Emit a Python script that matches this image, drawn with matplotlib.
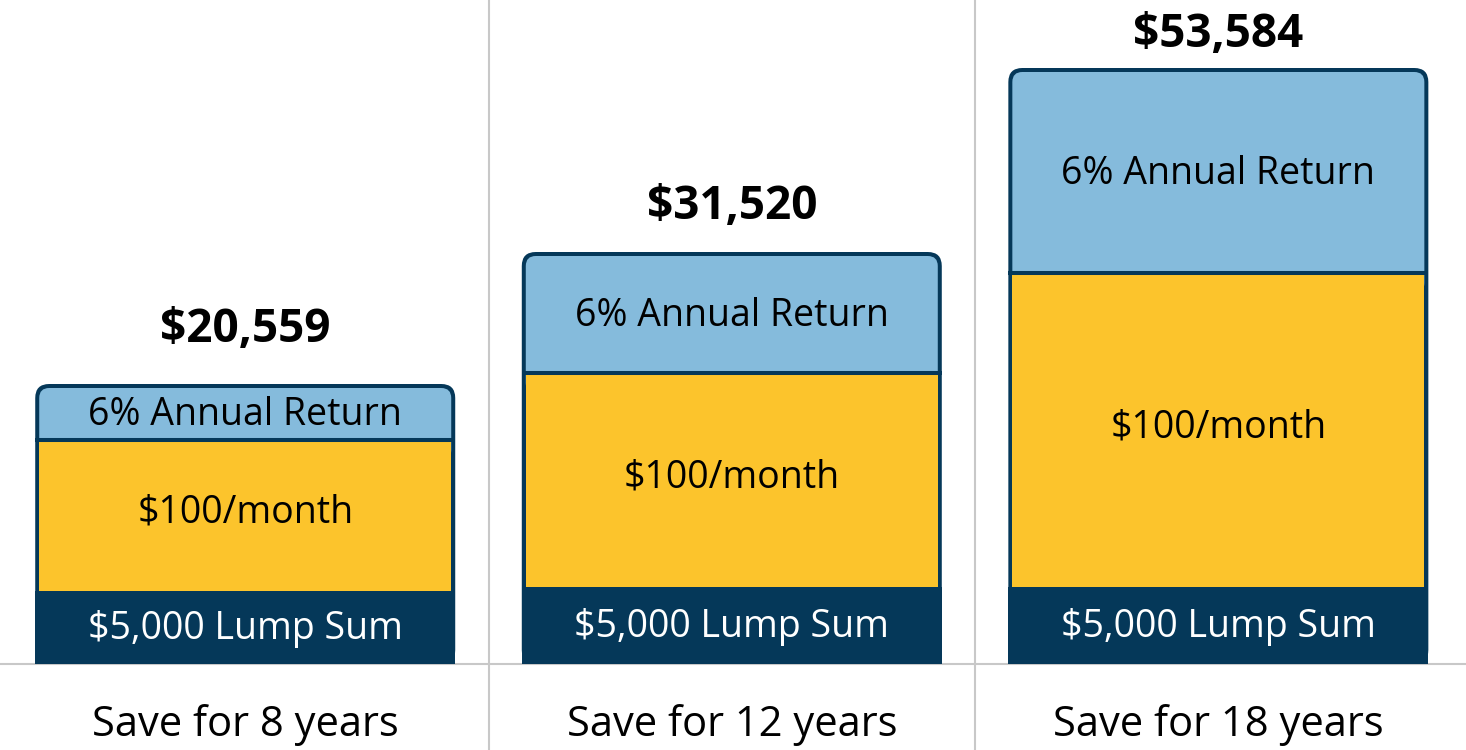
import matplotlib
matplotlib.use("Agg")
import numpy as np
from matplotlib import pyplot as plt
from matplotlib.patches import FancyBboxPatch

plt.rcParams['font.family'] = ['Open Sans', 'DejaVu Sans']

# data (segment heights are the drawn heights)
periods = ["Save for 8 years", "Save for 12 years", "Save for 18 years"]
totals = ["$20,559", "$31,520", "$53,584"]
lump = [73, 77, 77]
monthly = [151, 214, 314]
returns = [56, 121, 205]
lump_label = "$5,000 Lump Sum"
monthly_label = "$100/month"
return_label = "6% Annual Return"

navy = "#053859"
yellow = "#fcc42c"
blue = "#85bbdc"
grey = "#c8c8c8"

W, H = 1466, 750
fig = plt.figure(figsize=(W / 100, H / 100), dpi=100)
ax = fig.add_axes([0, 0, 1, 1])
ax.set_xlim(-0.504, 2.509)
ax.set_ylim(-86, 664)
ax.axis("off")

px = (2.509 + 0.504) / W      # x units per pixel
width = 420 * px
border = 4 * px
aspect = 1 / px               # y units per x unit
x = np.arange(len(periods))

ax.axhline(0, color=grey, lw=1.5, zorder=0)
for s in [0.5, 1.5]:
    ax.axvline(s, color=grey, lw=1.5, zorder=0)

lump = np.array(lump)
monthly = np.array(monthly)
returns = np.array(returns)
tops = lump + monthly + returns
gaps = [42, 33, 21]

for i in x:
    left = i - width / 2
    # navy frame with rounded top
    ax.add_patch(FancyBboxPatch((left, 0), width, tops[i],
                                boxstyle="round,pad=0,rounding_size=%f" % (14 * px),
                                mutation_aspect=aspect, fc=navy, ec="none", zorder=2))
    # blue part
    yb = lump[i] + monthly[i] - 20
    ax.add_patch(FancyBboxPatch((left + border, yb), width - 2 * border, tops[i] - 4 - yb,
                                boxstyle="round,pad=0,rounding_size=%f" % (10 * px),
                                mutation_aspect=aspect, fc=blue, ec="none", zorder=3))

ax.bar(x, monthly, bottom=lump, width=width - 2 * border, color=yellow, zorder=4)
ax.hlines(lump + monthly, x - width / 2, x + width / 2, color=navy, lw=2.9, zorder=4.5)
ax.bar(x, lump, width=width, color=navy, zorder=5)

for i in x:
    ax.text(i, lump[i] / 2 - 1, lump_label, ha="center", va="center",
            color="white", fontsize=27, zorder=6)
    ax.text(i, lump[i] + monthly[i] / 2 + 3, monthly_label, ha="center", va="center",
            color="black", fontsize=27, zorder=6)
    ax.text(i, lump[i] + monthly[i] + returns[i] / 2 - 3, return_label, ha="center",
            va="center", color="black", fontsize=27, zorder=6)
    ax.text(i, tops[i] + gaps[i], totals[i], ha="center", va="baseline",
            color="black", fontsize=33, fontweight="bold", zorder=6)
    ax.text(i, -61, periods[i], ha="center", va="center", color="black", fontsize=30)

fig.savefig("out.png", dpi=100)
